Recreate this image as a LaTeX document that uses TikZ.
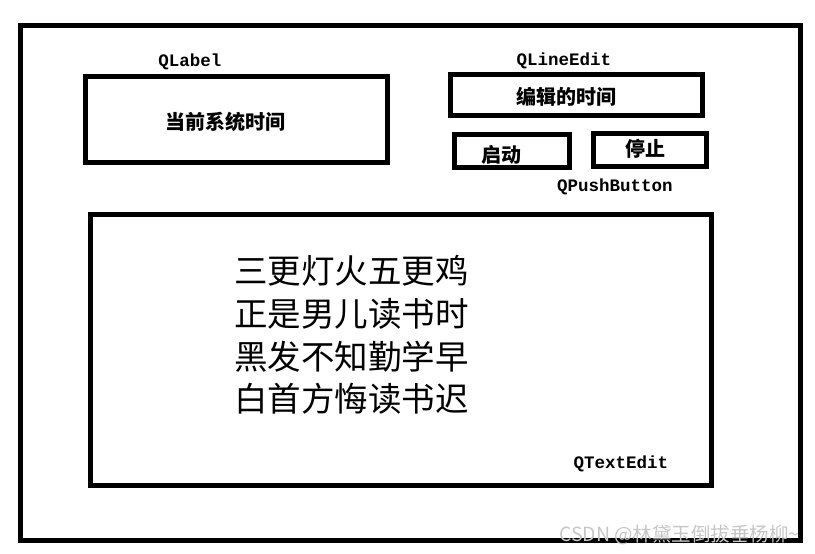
\documentclass[tikz,border=0pt]{standalone}
\usepackage{fontspec}
\setmonofont{Liberation Mono}
\newfontfamily\cjk{Noto Sans CJK SC}
\usetikzlibrary{positioning}

\tikzset{
    frame/.style={draw, line width=5pt, rectangle, inner sep=0pt},
    widget/.style={font=\ttfamily\bfseries\fontsize{17.5}{20}\selectfont},
    zhtext/.style={font=\cjk\bfseries\fontsize{20}{24}\selectfont}
}

\begin{document}
\begin{tikzpicture}[x=1pt, y=-1pt]
    \useasboundingbox (0,0) rectangle (815,554);

    % Window
    \node[frame, minimum width=780pt, minimum height=514.5pt] (win) at (410.5,282.75) {};

    % QLabel
    \node[frame, minimum width=302pt, minimum height=86pt] (lbl) at (236.5,119.5) {};
    \node[widget] (lblname) at (190,61.5) {QLabel};
    \node[zhtext] (lbltext) at (225,122) {当前系统时间};

    % QLineEdit
    \node[frame, minimum width=252pt, minimum height=41pt] (edit) at (576,95) {};
    \node[widget] (editname) at (564,61) {QLineEdit};
    \node[zhtext] (edittext) at (566,97) {编辑的时间};

    % Buttons
    \node[frame, minimum width=115pt, minimum height=33pt] (start) at (512,151) {};
    \node[zhtext] (starttext) at (501,155) {启动};
    \node[frame, minimum width=113pt, minimum height=32.5pt] (stop) at (650,149.75) {};
    \node[zhtext] (stoptext) at (645,149) {停止};
    \node[widget] (btnname) at (615,186.5) {QPushButton};

    % QTextEdit
    \node[frame, minimum width=621pt, minimum height=271pt] (text) at (401,350) {};
    \node[font=\cjk\fontsize{33.5}{42.7}\selectfont, align=left] (poem) at (351.5,335)
        {三更灯火五更鸡\\正是男儿读书时\\黑发不知勤学早\\白首方悔读书迟};
    \node[widget] (textname) at (621,463.5) {QTextEdit};

    % Watermark
    \node[font=\cjk\fontsize{19.5}{22}\selectfont, text=gray!45, anchor=east, inner sep=0pt] (mark) at (800,535) {CSDN @林黛玉倒拔垂杨柳\textasciitilde};
\end{tikzpicture}
\end{document}
